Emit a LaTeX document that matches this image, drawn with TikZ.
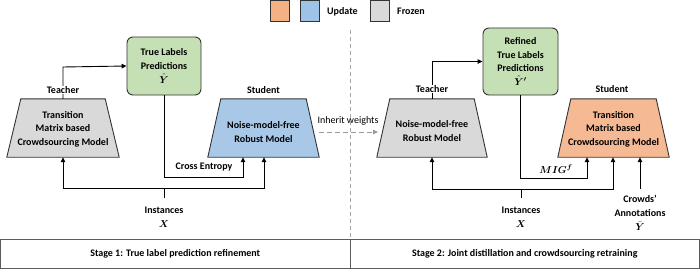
\documentclass[tikz,border=0pt]{standalone}
\usepackage{amsmath,bm}
\usepackage{fontspec}
\setmainfont{Carlito}
\usetikzlibrary{calc,arrows.meta}
\definecolor{gfill}{HTML}{C5E0B4}
\definecolor{bfill}{HTML}{A9C8E8}
\definecolor{ofill}{HTML}{F5B993}
\definecolor{gyfill}{HTML}{D9D9D9}
\definecolor{lg}{HTML}{F4B183}
\definecolor{lb}{HTML}{9DC3E6}
\definecolor{edge}{HTML}{333333}
\tikzset{
  txt/.style={font=\fontsize{10}{13.5}\selectfont\bfseries, align=center, inner sep=1pt},
  trapbb/.style={rectangle, minimum height=58pt, inner sep=0pt},
  trapline/.style={draw=edge, line width=0.9pt},
  predbox/.style={rectangle, rounded corners=6pt, draw=edge, fill=gfill, line width=0.9pt,
    font=\fontsize{10}{13.5}\selectfont\bfseries, align=center, inner sep=0pt},
  arr/.style={line width=0.9pt, -{Triangle[length=5pt,width=4.5pt]}},
  ln/.style={line width=0.9pt},
  legbox/.style={rectangle, draw=edge, line width=1pt, minimum width=19pt, minimum height=21pt, inner sep=0pt},
  stagebox/.style={rectangle, draw=edge!80, line width=0.8pt, minimum height=29pt, inner sep=0pt},
}
\newcommand\trapdraw[3]{% node name, inset, fill
  \draw[trapline, fill=#3] (#1.south west) -- ($(#1.north west)+(#2,0)$)
    -- ($(#1.north east)+(-#2,0)$) -- (#1.south east) -- cycle;}
\begin{document}
\begin{tikzpicture}[x=1pt,y=-1pt]
\useasboundingbox (0,0) rectangle (700,270);
% legend
\node[legbox, fill=lg] (l1) at (279.5,11.5) {};
\node[legbox, fill=lb] (l2) at (309.5,11.5) {};
\node[txt, anchor=west] (lu) at (326,11.5) {Update};
\node[legbox, fill=gyfill] (l3) at (379.5,11.5) {};
\node[txt, anchor=west] (lf) at (396,11.5) {Frozen};
% divider
\coordinate (dtop) at (350,30);
\coordinate (dbot) at (350,238);
\draw[gray!70, line width=0.9pt, dash pattern=on 4pt off 3pt] (dtop) -- (dbot);
% stage boxes
\node[stagebox, minimum width=349.5pt] (s1) at (175.25,253.5) {};
\node[stagebox, minimum width=349.5pt] (s2) at (524.75,253.5) {};
\node[txt] at (s1) {Stage 1: True label prediction refinement};
\node[txt] at (s2) {Stage 2: Joint distillation and crowdsourcing retraining};

% ---------- Stage 1 ----------
\node[predbox, minimum width=74pt, minimum height=58pt] (gL) at (164,66)
  {True Labels\\Predictions\\[0.5pt]$\bm{\hat{Y}}$};
\node[trapbb, minimum width=112pt] (tL) at (63,128) {};
\trapdraw{tL}{14}{gyfill}
\node[txt] at (63,129) {Transition\\Matrix based\\Crowdsourcing Model};
\node[trapbb, minimum width=111pt] (sL) at (263.5,128) {};
\trapdraw{sL}{13}{bfill}
\node[txt] at (263.5,132) {Noise-model-free\\Robust Model};
\node[txt] (sLl) at (263.5,90) {Student};
\coordinate (tLup) at (63,67);
\draw[arr] (tL.north) -- (tLup) -- (gL.west);
\node[txt, fill=white, inner sep=0.5pt] (tLl) at (63,90) {Teacher};
\coordinate (ceL) at (243,177);
\draw[arr] (gL.south) |- (ceL) -- (ceL |- sL.south);
\node[txt] (ceLab) at (204,167) {Cross Entropy};
\coordinate (iL1) at (63,188);
\coordinate (iL2) at (264,188);
\coordinate (iLm) at (164,188);
\node[txt] (insL) at (164,217) {Instances\\[0.5pt]$\bm{X}$};
\draw[ln] (iLm) -- (164,198);
\draw[arr] (iLm) -- (iL1) -- (iL1 |- tL.south);
\draw[arr] (iLm) -- (iL2) -- (iL2 |- sL.south);

% inherit weights
\node[font=\fontsize{10}{12}\selectfont, inner sep=0pt] (inh) at (348,121) {Inherit weights};
\coordinate (ia) at (319,132);
\coordinate (ib) at (378,132);
\draw[gray!80, line width=0.9pt, dash pattern=on 5pt off 3pt, -{Triangle[length=5pt,width=4.5pt]}] (ia) -- (ib);

% ---------- Stage 2 ----------
\node[predbox, minimum width=75pt, minimum height=67pt] (gR) at (520.5,61.5)
  {Refined\\True Labels\\Predictions\\[0.5pt]$\bm{\hat{Y}'}$};
\node[trapbb, minimum width=110pt] (tR) at (432,128) {};
\trapdraw{tR}{13}{gyfill}
\node[txt] at (432,131) {Noise-model-free\\Robust Model};
\node[trapbb, minimum width=111pt] (sR) at (613.5,128) {};
\trapdraw{sR}{13}{ofill}
\node[txt] at (613.5,129) {Transition\\Matrix based\\Crowdsourcing Model};
\coordinate (tRup) at (432,61.5);
\draw[arr] (tR.north) -- (tRup) -- (gR.west);
\node[txt, fill=white, inner sep=0.5pt] (tRl) at (432,89) {Teacher};
\node[txt] (sRl) at (612,89) {Student};
\coordinate (mg) at (587,178);
\draw[arr] (gR.south) |- (mg) -- (mg |- sR.south);
\node[txt] (mgl) at (556,169) {$\bm{MIG^{f}}$};
\coordinate (iR1) at (432,189);
\coordinate (iR2) at (613,189);
\coordinate (iRm) at (521,189);
\node[txt] (insR) at (521,217) {Instances\\[0.5pt]$\bm{X}$};
\draw[ln] (iRm) -- (521,198);
\draw[arr] (iRm) -- (iR1) -- (iR1 |- tR.south);
\draw[arr] (iRm) -- (iR2) -- (iR2 |- sR.south);
\node[txt] (cr) at (640,213) {Crowds'\\Annotations\\[0.5pt]$\bm{\bar{Y}}$};
\coordinate (crt) at (640,189);
\draw[arr] (crt) -- (crt |- sR.south);
\end{tikzpicture}
\end{document}
